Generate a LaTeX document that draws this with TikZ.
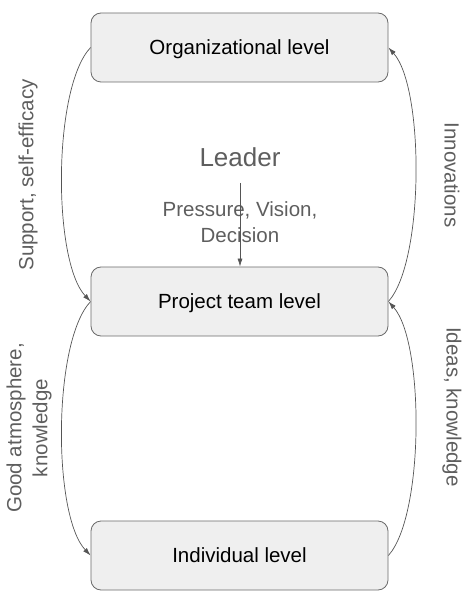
\documentclass[tikz,border=0pt]{standalone}
\usepackage{fontspec}
\setmainfont{Liberation Sans}
\usetikzlibrary{arrows.meta}
\definecolor{boxfill}{HTML}{EFEFEF}
\definecolor{boxline}{HTML}{6A6A6A}
\definecolor{txtgray}{HTML}{5E5E5E}
\definecolor{linegray}{HTML}{555555}
\begin{document}
\begin{tikzpicture}[x=1pt,y=-1pt,
  levelbox/.style={draw=boxline, fill=boxfill, rounded corners=10pt, minimum width=297pt, minimum height=69pt, inner sep=0pt, text depth=0pt, line width=0.8pt, font=\fontsize{20.5}{24}\selectfont},
  conn/.style={draw=linegray, line width=0.7pt, -{Latex[length=8pt,width=5pt]}},
  lbl/.style={text=txtgray, font=\fontsize{20.5}{26}\selectfont, align=center, inner sep=0pt}]
\useasboundingbox (0,0) rectangle (474,601);
\node[levelbox] (org) at (239.5,47.5) {Organizational level};
\node[levelbox] (proj) at (239.5,301.5) {Project team level};
\node[levelbox] (ind) at (239.5,555.5) {Individual level};
\node[lbl, font=\fontsize{26}{30}\selectfont] (leader) at (240,157) {Leader};
\node[lbl] (pvd) at (240,222) {Pressure, Vision,\\Decision};
\coordinate (lstart) at (240,183);
\draw[conn] (lstart) -- (proj.north -| lstart);
\draw[conn] (org.west) .. controls +(-38,40) and +(-38,-40) .. (proj.west);
\draw[conn] (proj.west) .. controls +(-38,40) and +(-38,-40) .. (ind.west);
\draw[conn] (ind.east) .. controls +(36,-40) and +(36,40) .. (proj.east);
\draw[conn] (proj.east) .. controls +(36,-40) and +(36,40) .. (org.east);
\node[lbl, rotate=90] (sup) at (28,175) {Support, self-efficacy};
\node[lbl, rotate=-90] (inn) at (452,175) {Innovations};
\node[lbl, rotate=90] (good) at (29,428) {Good atmosphere,\\knowledge};
\node[lbl, rotate=-90] (ideas) at (452,407) {Ideas, knowledge};
\end{tikzpicture}
\end{document}
